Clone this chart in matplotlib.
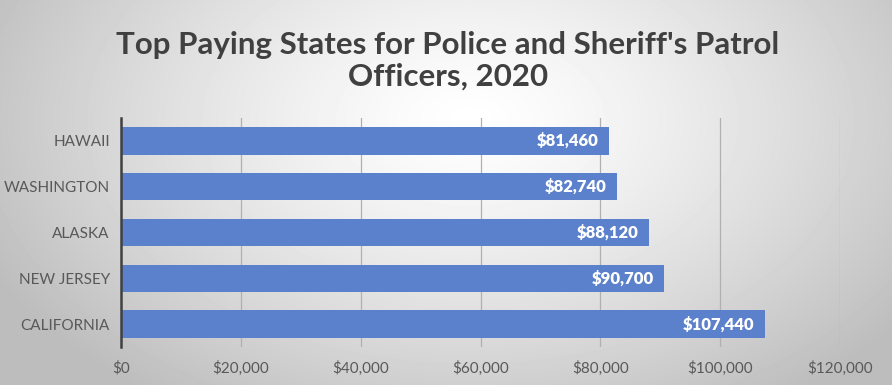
import numpy as np
import matplotlib

matplotlib.use("Agg")
import matplotlib.pyplot as plt
from matplotlib.ticker import FuncFormatter

# data, top to bottom as shown
states = ["HAWAII", "WASHINGTON", "ALASKA", "NEW JERSEY", "CALIFORNIA"]
wages = [81460, 82740, 88120, 90700, 107440]
x_ticks = [0, 20000, 40000, 60000, 80000, 100000, 120000]

plt.rcParams["font.family"] = ["Lato", "DejaVu Sans"]

W, H = 892, 385
fig = plt.figure(figsize=(W / 100, H / 100), dpi=100)

# radial gray background
bg = fig.add_axes([0, 0, 1, 1], zorder=-10)
yy, xx = np.mgrid[0:H, 0:W]
r = np.sqrt(((xx - 470) / 520.0) ** 2 + ((yy - 120) / 330.0) ** 2)
shade = np.clip(1.0 - 0.25 * r ** 1.3, 0.74, 1.0)
bg.imshow(shade, cmap="gray", vmin=0, vmax=1, aspect="auto", interpolation="bilinear")
bg.axis("off")

ax = fig.add_axes([121 / W, 1 - 347 / H, (840 - 121) / W, (347 - 118) / H])
ax.patch.set_alpha(0)

y = np.arange(len(states))
ax.barh(y, wages, height=0.6, color="#5B80CC", zorder=3)
for yi, v in zip(y, wages):
    ax.text(v - 1700, yi, f"${v:,}", ha="right", va="center", color="white",
            fontsize=12, fontweight="heavy", zorder=4)

ax.set_xlim(0, 120000)
ax.set_ylim(len(states) - 0.5, -0.5)
ax.set_yticks(y)
ax.set_yticklabels(states)
ax.set_xticks(x_ticks)
ax.xaxis.set_major_formatter(FuncFormatter(lambda v, p: f"${v:,.0f}"))
ax.tick_params(axis="both", length=0, labelsize=11, colors="#595959", pad=8)
ax.tick_params(axis="x", pad=10)
ax.grid(axis="x", color="#B0B0B0", linewidth=0.9, zorder=0)
for s in ["top", "right", "bottom"]:
    ax.spines[s].set_visible(False)
ax.spines["left"].set_color("#404040")
ax.spines["left"].set_linewidth(1.8)
ax.spines["left"].set_zorder(5)

fig.text(0.502, 1 - 45 / H, "Top Paying States for Police and Sheriff's Patrol",
         ha="center", va="center", fontsize=22.5, fontweight="bold", color="#404040")
fig.text(0.502, 1 - 77 / H, "Officers, 2020",
         ha="center", va="center", fontsize=22.5, fontweight="bold", color="#404040")

fig.savefig("out.png", dpi=100)
